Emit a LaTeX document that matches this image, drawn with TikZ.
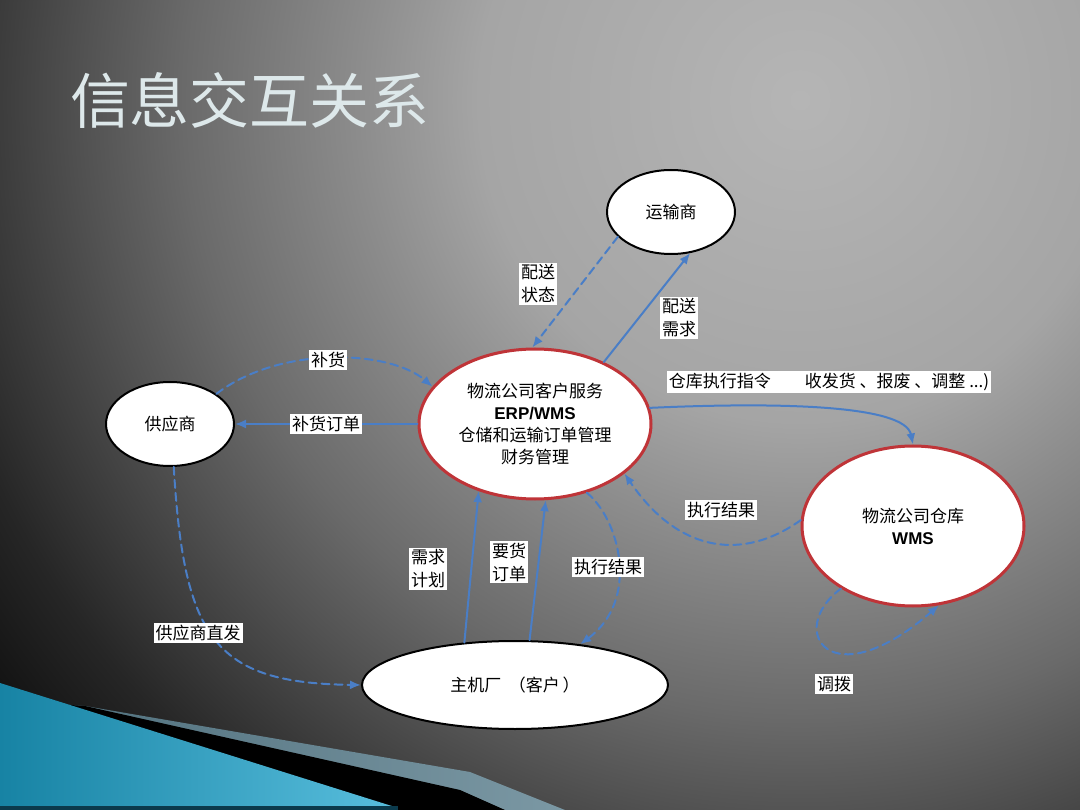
\documentclass[tikz,border=0pt]{standalone}
\usepackage{fontspec}
\setmainfont{Noto Sans CJK SC}
\newfontfamily\arialfont{Liberation Sans}
\usepackage{tikz}
\usetikzlibrary{positioning, shapes.geometric, arrows.meta}

\definecolor{linkblue}{HTML}{4A7EC6}
\definecolor{hubred}{HTML}{BF3438}
\definecolor{titlecol}{HTML}{DDE8EA}
\definecolor{bgA}{HTML}{B5B5B5}
\definecolor{bgB}{HTML}{A5A5A5}
\definecolor{bgC}{HTML}{8C8C8C}
\definecolor{bgD}{HTML}{6A6A6A}
\definecolor{bgE}{HTML}{525252}
\definecolor{bgF}{HTML}{3C3C3C}
\definecolor{bgG}{HTML}{262626}
\definecolor{bgH}{HTML}{141414}
\definecolor{bgI}{HTML}{0A0A0A}
\definecolor{tealA}{HTML}{1783A4}
\definecolor{tealB}{HTML}{58BEDD}
\definecolor{stripeA}{HTML}{4C6C79}
\definecolor{stripeB}{HTML}{7B98A4}
\definecolor{tealDark}{HTML}{0B3A4C}

\pgfdeclareradialshading{bgglow}{\pgfpoint{0bp}{0bp}}{color(0bp)=(bgA); color(10bp)=(bgB); color(13.8bp)=(bgC); color(19.2bp)=(bgD); color(22.3bp)=(bgE); color(25bp)=(bgF); color(27.7bp)=(bgG); color(30.8bp)=(bgH); color(42.3bp)=(bgI); color(50bp)=(bgI)}

\begin{document}
\begin{tikzpicture}[x=1pt, y=-1pt, line cap=round, line join=round,
        party/.style={ellipse, draw=black, line width=2pt, fill=white, inner sep=0pt, align=center, font=\fontsize{17}{22}\selectfont},
        core/.style={party, draw=hubred, line width=3pt},
        tag/.style={fill=white, inner sep=2pt, align=center, font=\fontsize{17}{23}\selectfont},
        link/.style={draw=linkblue, line width=2pt, -{Latex[length=11pt, width=9pt]}},
        dlink/.style={link, dash pattern=on 8pt off 5pt}]
        \useasboundingbox (0,0) rectangle (1080,810);

        % background
        \begin{scope}
            \clip (0,0) rectangle (1080,810);
            \fill[bgI] (0,0) rectangle (1080,810);
            \begin{scope}
                \pgftransformshift{\pgfpointxy{800}{100}}
                \pgftransformscale{32}
                \pgflowlevelsynccm
                \pgfuseshading{bgglow}
            \end{scope}
            % corner band
            \shade[left color=stripeA, right color=stripeB] (0,700) -- (85,706) -- (470,772) -- (565,810) -- (0,810) -- cycle;
            \fill[black] (0,700) -- (85,706) -- (460,790) -- (505,810) -- (0,810) -- cycle;
            \shade[left color=tealA, right color=tealB] (0,683) -- (395,807) -- (0,807) -- cycle;
            \fill[tealDark] (0,806) rectangle (398,810);
        \end{scope}

        % title
        \node[font=\fontsize{60}{60}\selectfont, text=titlecol] (title) at (250,100) {信息交互关系};

        % parties
        \node[party, minimum width=128pt, minimum height=84pt] (yun) at (671,212) {运输商};
        \node[party, minimum width=128pt, minimum height=84pt] (gong) at (170,424) {供应商};
        \node[core, minimum width=232pt, minimum height=150pt] (hub) at (535,424)
            {物流公司客户服务\\{\arialfont\bfseries ERP/WMS}\\仓储和运输订单管理\\财务管理};
        \node[core, minimum width=222pt, minimum height=160pt] (wms) at (913,526)
            {物流公司仓库\\{\arialfont\bfseries WMS}};
        \node[party, minimum width=306pt, minimum height=88pt] (zhu) at (515,685) {主机厂\ \ （客户\,）};

        % carrier
        \draw[dlink] (yun.205) -- (hub.92);
        \draw[link] (hub.42) -- (yun.295);

        % supplier
        \draw[dlink] (gong.33) .. controls (280,345) and (390,350) .. (hub.160);
        \draw[link] (hub.west) -- (gong.east);
        \draw[dlink] (gong.275) .. controls (184,640) and (215,683) .. (zhu.west);

        % warehouse
        \draw[link] (hub.8) .. controls (780,402) and (905,405) .. (wms.north);
        \draw[dlink] (wms.177) .. controls (745,560) and (680,555) .. (hub.331);
        \draw[dlink] (wms.221) .. controls (785,630) and (830,700) .. (wms.288);

        % customer
        \draw[link] (zhu.140) -- (hub.230);
        \draw[link] (zhu.72) -- (hub.278);
        \draw[dlink] (hub.307) .. controls (620,520) and (640,600) .. (zhu.32);

        % labels
        \node[tag] (lbStatus) at (538,284) {配送\\状态};
        \node[tag] (lbNeed) at (679,318) {配送\\需求};
        \node[tag] (lbRestock) at (328,360) {补货};
        \node[tag] (lbOrder) at (326,424) {补货订单};
        \node[tag] (lbCmd) at (829,382) {仓库执行指令\quad\quad 收发货 、报废 、调整 ...)};
        \node[tag] (lbResultR) at (721,510) {执行结果};
        \node[tag] (lbPlan) at (428,569) {需求\\计划};
        \node[tag] (lbBuy) at (509,562) {要货\\订单};
        \node[tag] (lbResultB) at (608,567) {执行结果};
        \node[tag] (lbDirect) at (198,633) {供应商直发};
        \node[tag] (lbMove) at (834,684) {调拨};
\end{tikzpicture}
\end{document}
